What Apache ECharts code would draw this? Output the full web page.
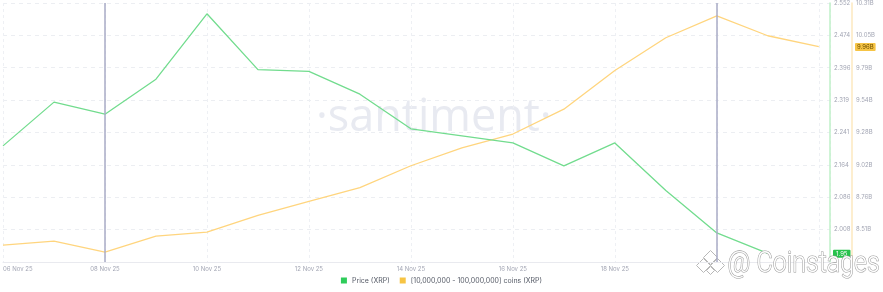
<!DOCTYPE html>
<html><head><meta charset="utf-8">
<script src="https://cdn.jsdelivr.net/npm/echarts@6/dist/echarts.min.js"></script>
<style>html,body{margin:0;padding:0;background:#fff}#c{width:883px;height:292px}</style>
</head><body><div id="c"></div>
<script>
// ---- data ----
const days = ['06 Nov 25','07 Nov 25','08 Nov 25','09 Nov 25','10 Nov 25','11 Nov 25','12 Nov 25','13 Nov 25','14 Nov 25','15 Nov 25','16 Nov 25','17 Nov 25','18 Nov 25','19 Nov 25','20 Nov 25','21 Nov 25','22 Nov 25'];
const priceXRP = [2.209,2.314,2.285,2.369,2.526,2.392,2.388,2.333,2.250,2.233,2.216,2.161,2.216,2.102,2.000,1.951];
const holdersB = [8.387,8.419,8.332,8.458,8.490,8.624,8.734,8.844,9.017,9.159,9.269,9.466,9.773,10.033,10.207,10.049,9.962];
const priceTicks = ['2.008','2.086','2.164','2.241','2.319','2.396','2.474','2.552'];
const holderTicks = ['8.51B','8.76B','9.02B','9.28B','9.54B','9.79B','10.05B','10.31B'];
// labels visible in the reference (those under the watermark are hidden)
const xTickLabels = ['06 Nov 25','08 Nov 25','10 Nov 25','12 Nov 25','14 Nov 25','16 Nov 25','18 Nov 25','',''];
const highlightDays = ['08 Nov 25','20 Nov 25'];
const seriesNames = ['Price (XRP)','[10,000,000 - 100,000,000] coins (XRP)'];

// axis ranges
const PSTEP = 0.0777, PMIN = 1.9303, PMAX = PMIN + 8*PSTEP;
const HSTEP = 0.257, HMIN = 8.253, HMAX = HMIN + 8*HSTEP;

const GREEN = '#72dc8e', YELLOW = '#ffd57e';
const priceData = priceXRP.map((v,i)=>[i,v]);
const holderData = holdersB.map((v,i)=>[i,v]);
const lastPrice = priceXRP[priceXRP.length-1];
const lastHold = holdersB[holdersB.length-1];

const chart = echarts.init(document.getElementById('c'), null, {renderer:'canvas'});
const FONT = 'Inter, Roboto, sans-serif';
chart.setOption({
  animation:false,
  textStyle:{fontFamily:FONT},
  grid:{left:1, right:53, top:1, height:261},
  legend:{
    bottom:3, left:'center', itemWidth:6, itemHeight:6, itemGap:10, icon:'rect',
    textStyle:{fontSize:7, color:'#555a66', fontFamily:FONT},
    data:[{name:seriesNames[0], itemStyle:{color:'#2ecc5a'}},{name:seriesNames[1], itemStyle:{color:'#f7c443'}}]
  },
  xAxis:{
    type:'value', min:0, max:16.22, interval:2,
    axisLine:{show:true, onZero:false, lineStyle:{color:'#e9eaef'}},
    axisTick:{show:false},
    axisLabel:{fontSize:6, color:'#a3a6b4', margin:4, showMaxLabel:false, alignMinLabel:'left',
      formatter:v=>xTickLabels[Math.round(v/2)]||''},
    splitLine:{show:true, lineStyle:{color:'#eef0f4', type:[3,3]}}
  },
  yAxis:[{
    type:'value', position:'right', min:PMIN, max:PMAX, interval:PSTEP, offset:0,
    axisLine:{show:true, onZero:false, lineStyle:{color:'#bff0c9', width:1.5}},
    axisTick:{show:false},
    axisLabel:{fontSize:6, color:'#a3a6b4', margin:4,
      formatter:v=>{const i=Math.round((v-PMIN)/PSTEP)-1; return priceTicks[i]||'';}},
    splitLine:{show:true, lineStyle:{color:'#eceef2', type:[4,4]}}
  },{
    type:'value', position:'right', min:HMIN, max:HMAX, interval:HSTEP, offset:22,
    axisLine:{show:true, onZero:false, lineStyle:{color:'#fde9bf', width:1.5}},
    axisTick:{show:false},
    axisLabel:{fontSize:6, color:'#a3a6b4', margin:4,
      formatter:v=>{const i=Math.round((v-HMIN)/HSTEP)-1; return holderTicks[i]||'';}},
    splitLine:{show:false}
  }],
  graphic:[
    {type:'text', left:316, top:96, z:0, silent:true,
     style:{text:'·santiment·', font:'500 45px "Open Sans", sans-serif', fill:'#e8eaf1'}},
    {type:'group', left:696, top:250, z:100, children:[
      {type:'polygon', shape:{points:[[14,0],[21,7],[14,14],[7,7]]}, style:{fill:'#fff', stroke:'#b8b8b8', lineWidth:1}},
      {type:'polygon', shape:{points:[[7,8],[14,15],[7,22],[0,15]]}, style:{fill:'#fff', stroke:'#b8b8b8', lineWidth:1}},
      {type:'polygon', shape:{points:[[21,8],[28,15],[21,22],[14,15]]}, style:{fill:'#fff', stroke:'#b8b8b8', lineWidth:1}},
      {type:'polygon', shape:{points:[[14,16],[18,20],[14,24],[10,20]]}, style:{fill:'#fff', stroke:'#b8b8b8', lineWidth:1}}
    ]},
    {type:'text', left:727, top:250, z:100, silent:true, scaleY:1.15,
     style:{text:'@ Coinstages', font:'300 25px Roboto, sans-serif', fill:'#ffffff', stroke:'#9a9a9a', lineWidth:1}}
  ],
  series:[{
    name:seriesNames[0], type:'line', yAxisIndex:0, data:priceData,
    symbol:'none', lineStyle:{color:GREEN, width:1.3}, itemStyle:{color:GREEN}, z:3,
    markLine:{silent:true, symbol:'none', animation:false,
      data:[
        {xAxis:days.indexOf(highlightDays[0]), lineStyle:{color:'#a9abc6', width:1.5, type:'solid'}, label:{show:false}},
        {xAxis:days.indexOf(highlightDays[1]), lineStyle:{color:'#a9abc6', width:1.5, type:'solid'}, label:{show:false}},
        {yAxis:lastPrice, lineStyle:{color:'rgba(0,0,0,0)', width:0}, label:{show:true, position:'end', distance:3,
          formatter:lastPrice.toFixed(2), backgroundColor:'#27c24c', color:'#fff', fontSize:6, padding:[1,3,1,3], borderRadius:1}}
      ]}
  },{
    name:seriesNames[1], type:'line', yAxisIndex:1, data:holderData,
    symbol:'none', lineStyle:{color:YELLOW, width:1.3}, itemStyle:{color:YELLOW}, z:2,
    markLine:{silent:true, symbol:'none', animation:false,
      data:[
        {yAxis:lastHold, lineStyle:{color:'rgba(0,0,0,0)', width:0}, label:{show:true, position:'end', distance:25,
          formatter:lastHold.toFixed(2)+'B', backgroundColor:'#f6c445', color:'#6b4d00', fontSize:6, padding:[1,2,1,2], borderRadius:1}}
      ]}
  }]
});
</script></body></html>
